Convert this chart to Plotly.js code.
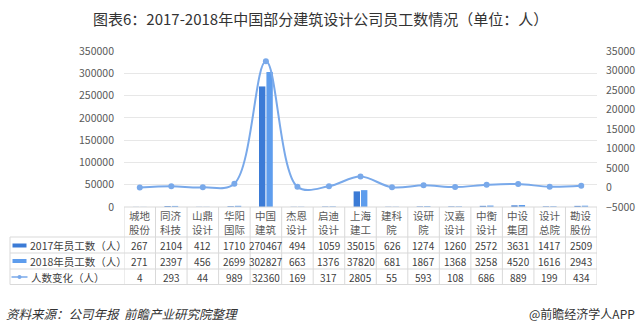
<!DOCTYPE html>
<html>
<head>
<meta charset="utf-8">
<script src="https://cdn.plot.ly/plotly-3.0.1.min.js"></script>
<style>
  html, body { margin: 0; padding: 0; background: #fff; }
  #chart { width: 640px; height: 329px; }
</style>
</head>
<body>
<div id="chart"></div>
<script>
// ---- data ----
const categories = ['城地股份','同济科技','山鼎设计','华阳国际','中国建筑','杰恩设计','启迪设计','上海建工','建科院','设研院','汉嘉设计','中衡设计','中设集团','设计总院','勘设股份'];
const categoryLabels = ['城地<br>股份','同济<br>科技','山鼎<br>设计','华阳<br>国际','中国<br>建筑','杰恩<br>设计','启迪<br>设计','上海<br>建工','建科<br>院','设研<br>院','汉嘉<br>设计','中衡<br>设计','中设<br>集团','设计<br>总院','勘设<br>股份'];
const staff2017 = [267, 2104, 412, 1710, 270467, 494, 1059, 35015, 626, 1274, 1260, 2572, 3631, 1417, 2509];
const staff2018 = [271, 2397, 456, 2699, 302827, 663, 1376, 37820, 681, 1867, 1368, 3258, 4520, 1616, 2943];
const staffChange = [4, 293, 44, 989, 32360, 169, 317, 2805, 55, 593, 108, 686, 889, 199, 434];
const seriesNames = ['2017年员工数（人）', '2018年员工数（人）', '人数变化（人）'];
const titleText = '图表6：2017-2018年中国部分建筑设计公司员工数情况（单位：人）';
const sourceText = '资料来源：公司年报  前瞻产业研究院整理';
const creditText = '@前瞻经济学人APP';

// ---- layout geometry (pixels) ----
const L = 124, R = 597, T = 51, B = 207, WIDTH = 640, HEIGHT = 329;
const PW = R - L, PH = B - T;
const px = x => (x - L) / PW;
const py = y => (B - y) / PH;

const C2017 = '#3b7bd6', C2018 = '#5e9ded', CLINE = '#79a9ea';
const FONT = '"Noto Sans CJK SC", "Noto Sans", sans-serif';
const GRID = '#d9d9d9';

const traces = [
  { type: 'bar', name: seriesNames[0], x: categories, y: staff2017, marker: { color: C2017 }, yaxis: 'y', hoverinfo: 'x+y' },
  { type: 'bar', name: seriesNames[1], x: categories, y: staff2018, marker: { color: C2018 }, yaxis: 'y', hoverinfo: 'x+y' },
  { type: 'scatter', mode: 'lines+markers', name: seriesNames[2], x: categories, y: staffChange, yaxis: 'y2',
    line: { color: CLINE, width: 2, shape: 'spline', smoothing: 1 },
    marker: { color: CLINE, size: 6 }, cliponaxis: false }
];

const annotations = [];
const shapes = [];

// title, source, credit
annotations.push({ xref: 'paper', yref: 'paper', x: px(320), y: py(18), xanchor: 'center', yanchor: 'middle',
  text: titleText, showarrow: false, font: { family: FONT, size: 15, color: '#333333' } });
annotations.push({ xref: 'paper', yref: 'paper', x: px(4), y: py(313), xanchor: 'left', yanchor: 'middle',
  text: '<i>' + sourceText + '</i>', showarrow: false, font: { family: FONT, size: 12.5, color: '#333333' } });
annotations.push({ xref: 'paper', yref: 'paper', x: px(637), y: py(313), xanchor: 'right', yanchor: 'middle',
  text: creditText, showarrow: false, font: { family: FONT, size: 12, color: '#333333' } });

// category header (two lines each) and table values
const rowY = [245.5, 261, 277];
const rowVals = [staff2017, staff2018, staffChange];
categories.forEach((c, i) => {
  annotations.push({ xref: 'x', yref: 'paper', x: c, y: py(222.5), xanchor: 'center', yanchor: 'middle',
    text: categoryLabels[i], showarrow: false, font: { family: FONT, size: 10.5, color: '#595959' } });
  rowVals.forEach((arr, r) => {
    annotations.push({ xref: 'x', yref: 'paper', x: c, y: py(rowY[r]), xanchor: 'center', yanchor: 'middle',
      text: String(arr[i]), showarrow: false, font: { family: FONT, size: 10, color: '#404040' } });
  });
});
// row legend labels
seriesNames.forEach((n, r) => {
  annotations.push({ xref: 'paper', yref: 'paper', x: px(r === 2 ? 29 : 27.5), y: py(rowY[r]), xanchor: 'left', yanchor: 'middle',
    text: n, showarrow: false, font: { family: FONT, size: 10.5, color: '#404040' } });
});

// table grid
[237, 253, 269, 284.5].forEach(yy => {
  shapes.push({ type: 'line', xref: 'paper', yref: 'paper', x0: px(10), x1: 1, y0: py(yy), y1: py(yy), line: { color: GRID, width: 1 } });
});
for (let i = -1; i < categories.length; i++) {
  shapes.push({ type: 'line', xref: 'x', yref: 'paper', x0: i + 0.5, x1: i + 0.5, y0: py(207), y1: py(284.5), line: { color: GRID, width: 1 } });
}
shapes.push({ type: 'line', xref: 'paper', yref: 'paper', x0: px(10), x1: px(10), y0: py(237), y1: py(284.5), line: { color: GRID, width: 1 } });
shapes.push({ type: 'line', xref: 'paper', yref: 'paper', x0: 0, x1: 1, y0: 0, y1: 0, line: { color: GRID, width: 1 } });

// legend keys
shapes.push({ type: 'rect', xref: 'paper', yref: 'paper', x0: px(12.5), x1: px(26.5), y0: py(247.5), y1: py(243.5), fillcolor: C2017, line: { width: 0 } });
shapes.push({ type: 'rect', xref: 'paper', yref: 'paper', x0: px(12.5), x1: px(26.5), y0: py(263), y1: py(259), fillcolor: C2018, line: { width: 0 } });
shapes.push({ type: 'line', xref: 'paper', yref: 'paper', x0: px(11.5), x1: px(27.5), y0: py(277), y1: py(277), line: { color: CLINE, width: 1.5 } });
shapes.push({ type: 'circle', xref: 'paper', yref: 'paper', x0: px(17.5), x1: px(21.5), y0: py(279), y1: py(275), fillcolor: CLINE, line: { width: 0 } });

const layout = {
  width: WIDTH, height: HEIGHT,
  margin: { l: L, r: WIDTH - R, t: T, b: HEIGHT - B, pad: 0 },
  paper_bgcolor: '#ffffff', plot_bgcolor: '#ffffff',
  font: { family: FONT, size: 10, color: '#595959' },
  showlegend: false,
  barmode: 'group', bargap: 0.53, bargroupgap: 0.14,
  xaxis: { type: 'category', range: [-0.5, categories.length - 0.5], showticklabels: false, showgrid: false,
           zeroline: false, showline: false, ticks: '', fixedrange: true },
  yaxis: { range: [0, 350000], dtick: 50000, tick0: 0, showgrid: true, gridcolor: '#e7e7e7', gridwidth: 1,
           zeroline: false, showline: false, ticks: '', ticklabelstandoff: 9,
           tickfont: { family: FONT, size: 10.5, color: '#595959' }, tickformat: 'd' },
  yaxis2: { overlaying: 'y', side: 'right', range: [-5000, 35000], dtick: 5000, tick0: 0, showgrid: false,
            zeroline: false, showline: false, ticks: '', ticklabelstandoff: 8,
            tickfont: { family: FONT, size: 10.5, color: '#595959' }, tickformat: 'd' },
  annotations: annotations,
  shapes: shapes
};

Plotly.newPlot('chart', traces, layout, { displayModeBar: false, staticPlot: true });
</script>
</body>
</html>
